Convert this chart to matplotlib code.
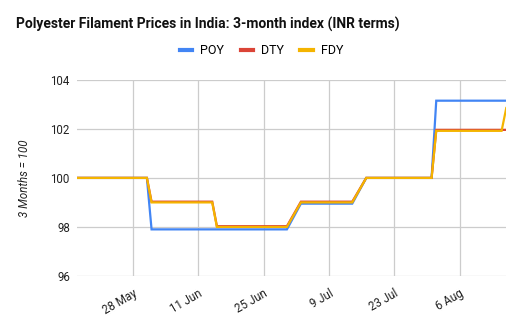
import numpy as np
import pandas as pd
import matplotlib
matplotlib.use("Agg")
import matplotlib.pyplot as plt
import matplotlib.dates as mdates

plt.rcParams['font.family'] = ['Roboto', 'DejaVu Sans']

# breakpoints of the index, 2018
dates = pd.to_datetime([
    "2018-05-16", "2018-05-31", "2018-06-01", "2018-06-14", "2018-06-15",
    "2018-06-30", "2018-07-03", "2018-07-14", "2018-07-17", "2018-07-31",
    "2018-08-01", "2018-08-15", "2018-08-16",
])
poy = [100, 100, 97.9, 97.9, 97.9, 97.9, 98.95, 98.95, 100, 100, 103.15, 103.15, 103.15]
dty = [100, 100, 99.03, 99.03, 98.03, 98.03, 99.03, 99.03, 100, 100, 101.96, 101.96, 101.96]
fdy = [100, 100, 99.0, 99.0, 98.0, 98.0, 99.0, 99.0, 100, 100, 101.92, 101.92, 102.85]

series = [("POY", poy, "#4285F4"), ("DTY", dty, "#DB4437"), ("FDY", fdy, "#F4B400")]
tick_dates = pd.to_datetime(["2018-05-28", "2018-06-11", "2018-06-25",
                             "2018-07-09", "2018-07-23", "2018-08-06"])
tick_labels = ["28 May", "11 Jun", "25 Jun", "9 Jul", "23 Jul", "6 Aug"]
y_ticks = [96, 98, 100, 102, 104]

fig = plt.figure(figsize=(5.23, 3.22), dpi=100)
ax = fig.add_axes([0.147, 0.143, 0.821, 0.609])

for name, vals, col in series:
    ax.plot(dates, vals, color=col, lw=1.6, label=name, solid_joinstyle="miter")

ax.set_xlim(pd.Timestamp("2018-05-16"), pd.Timestamp("2018-08-16"))
ax.set_ylim(96, 104)
ax.set_yticks(y_ticks)
ax.set_xticks(tick_dates)
ax.set_xticklabels(tick_labels, rotation=30, ha="right", rotation_mode="anchor")
ax.grid(True, color="#cccccc", lw=0.9)
ax.set_axisbelow(True)
for s in ax.spines.values():
    s.set_visible(False)
ax.tick_params(length=0, labelsize=8.3, colors="#222222", pad=5)
ax.tick_params(axis="x", pad=8)
ax.set_ylabel("3 Months = 100", fontsize=8.3, style="italic", color="#222222", labelpad=14)

fig.text(0.031, 0.925, "Polyester Filament Prices in India: 3-month index (INR terms)",
         fontsize=10, fontweight="bold", color="#111111", ha="left", va="center")

leg = fig.legend(loc="center", bbox_to_anchor=(0.5, 0.842), ncol=3, frameon=False,
                 fontsize=9, handlelength=1.0, handletextpad=0.65, columnspacing=1.3)
for h in leg.get_lines():
    h.set_linewidth(3)

fig.savefig("out.png", dpi=100)
